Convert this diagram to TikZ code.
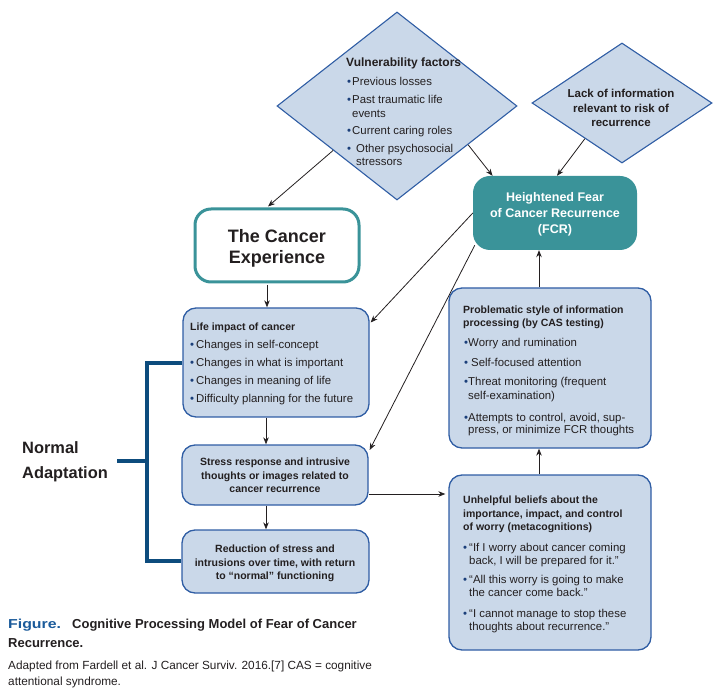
\documentclass[tikz,border=0pt]{standalone}
\usepackage{fontspec}
\setmainfont{Liberation Sans}
\usetikzlibrary{shapes.geometric,arrows.meta,calc}
\definecolor{boxfill}{HTML}{CAD8E9}
\definecolor{boxline}{HTML}{2F5DA4}
\definecolor{tealc}{HTML}{3A9399}
\definecolor{ink}{HTML}{231F20}
\definecolor{bul}{HTML}{1B3F7A}
\definecolor{brack}{HTML}{0D4C7D}
\definecolor{figblue}{HTML}{1A5A9A}
\newcount\tcnt
\newcommand\Tx[4][]{\global\advance\tcnt by 1\relax
  \node[txt,#1] (t\the\tcnt) at (#2,#3) {#4};}
\newcommand\Bul[4][6]{\Tx{#2}{#3}{\textcolor{bul}{\textbullet}}\Tx{#2+#1}{#3}{#4}}
\tikzset{
  txt/.style={anchor=base west,inner sep=0pt,text=ink,font=\fontsize{11.4}{13}\selectfont},
  bt/.style={font=\bfseries\fontsize{10.5}{12}\selectfont},
  ctr/.style={anchor=base},
  bluebox/.style={draw=boxline,fill=boxfill,line width=1.3pt,rounded corners=13pt,inner sep=0pt},
  bluediam/.style={diamond,draw=boxline,fill=boxfill,line width=1.1pt,inner sep=0pt},
  arr/.style={draw=ink,line width=0.8pt,-{Stealth[length=7pt,width=5.5pt]}},
  brk/.style={draw=brack,line width=4pt}
}
\begin{document}
\begin{tikzpicture}[x=1pt,y=-1pt]
\useasboundingbox (0,0) rectangle (723,700);
% shapes
\node[bluediam,minimum width=240pt,minimum height=188pt] (vul) at (397,106) {};
\node[bluediam,minimum width=180pt,minimum height=120pt] (lack) at (622,103) {};
\node[draw=tealc,fill=white,line width=3pt,rounded corners=16pt,minimum width=164pt,minimum height=73pt,inner sep=0pt] (cancer) at (277,245.5) {};
\node[fill=tealc,rounded corners=17pt,minimum width=164pt,minimum height=74pt,inner sep=0pt] (fcr) at (555,213) {};
\node[bluebox,minimum width=186pt,minimum height=109pt] (life) at (276,362.5) {};
\node[bluebox,minimum width=186pt,minimum height=60pt] (stress) at (275,475) {};
\node[bluebox,minimum width=187pt,minimum height=63pt] (red) at (275.5,561.5) {};
\node[bluebox,minimum width=202pt,minimum height=160pt] (prob) at (550,368) {};
\node[bluebox,minimum width=202pt,minimum height=175pt] (unh) at (550,562.5) {};
% connectors
\draw[arr] ($(vul.west)!0.47!(vul.south)$) -- ($(cancer.north)+(-9,-1)$);
\draw[arr] ($(vul.east)!0.41!(vul.south)$) -- ($(fcr.north west)!0.12!(fcr.north east)$);
\draw[arr] ($(lack.west)!0.59!(lack.south)$) -- ($(fcr.north)+(2,0)$);
\draw[arr] ($(cancer.south)+(-10,1.5)$) coordinate (c1) -- (c1 |- life.north);
\draw[arr] ($(life.south)+(-10,0)$) coordinate (c2) -- (c2 |- stress.north);
\draw[arr] ($(stress.south)+(-9,0)$) coordinate (c3) -- (c3 |- red.north);
\draw[arr] (fcr.west) -- ($(life.east)+(1,-40)$);
\draw[arr] ($(fcr.south west)+(2,-5)$) -- ($(stress.east)+(1,-25)$);
\draw[arr] ($(stress.east)+(0,19)$) coordinate (c4) -- ($(c4 -| unh.west)+(-3,0)$);
\draw[arr] ($(unh.north)+(-11,0)$) coordinate (c5) -- (c5 |- prob.south);
\draw[arr] ($(prob.north)+(-11,0)$) coordinate (c6) -- (c6 |- fcr.south);
% bracket
\coordinate (b1) at (147,363);
\coordinate (b2) at (147,561);
\coordinate (b3) at (117,461);
\draw[brk] (life.west |- b1) -- (b1) -- (b2) -- (red.west |- b2);
\draw[brk] (b3) -- (b3 -| b1);
\Tx[font=\bfseries\fontsize{16.4}{18}\selectfont]{22}{453.5}{Normal}
\Tx[font=\bfseries\fontsize{16.4}{18}\selectfont]{22}{478}{Adaptation}
% vulnerability
\Tx[font=\bfseries\fontsize{12}{14}\selectfont]{346}{67}{Vulnerability factors}
\Bul[5]{347}{86}{Previous losses}
\Bul[5]{347}{104}{Past traumatic life}
\Tx{352}{117.5}{events}
\Bul[5]{347}{135}{Current caring roles}
\Bul[9]{347}{153}{Other psychosocial}
\Tx{356}{166}{stressors}
% lack
\Tx[ctr,font=\bfseries\fontsize{11.5}{13}\selectfont]{621}{97.5}{Lack of information}
\Tx[ctr,font=\bfseries\fontsize{11.5}{13}\selectfont]{621}{112.5}{relevant to risk of}
\Tx[ctr,font=\bfseries\fontsize{11.5}{13}\selectfont]{621}{127}{recurrence}
% fcr
\Tx[ctr,text=white,font=\bfseries\fontsize{12.5}{14}\selectfont]{555}{201.5}{Heightened Fear}
\Tx[ctr,text=white,font=\bfseries\fontsize{12.5}{14}\selectfont]{555}{217.5}{of Cancer Recurrence}
\Tx[ctr,text=white,font=\bfseries\fontsize{12.5}{14}\selectfont]{555}{234}{(FCR)}
% cancer
\Tx[ctr,font=\bfseries\fontsize{18}{20}\selectfont]{277}{243}{The Cancer}
\Tx[ctr,font=\bfseries\fontsize{18}{20}\selectfont]{277}{264}{Experience}
% life impact
\Tx[bt]{190}{331}{Life impact of cancer}
\Bul{190}{349}{Changes in self-concept}
\Bul{190}{367}{Changes in what is important}
\Bul{190}{385}{Changes in meaning of life}
\Bul{190}{403}{Difficulty planning for the future}
% stress
\Tx[bt,ctr]{275}{465}{Stress response and intrusive}
\Tx[bt,ctr]{275}{479}{thoughts or images related to}
\Tx[bt,ctr]{275}{492}{cancer recurrence}
% reduction
\Tx[bt,ctr]{275}{552}{Reduction of stress and}
\Tx[bt,ctr]{275}{566}{intrusions over time, with return}
\Tx[bt,ctr]{275}{579}{to “normal” functioning}
% problematic
\Tx[bt]{463}{314}{Problematic style of information}
\Tx[bt]{463}{327}{processing (by CAS testing)}
\Bul[4]{464}{347}{Worry and rumination}
\Bul[7]{464}{367}{Self-focused attention}
\Bul[4]{464}{386}{Threat monitoring (frequent}
\Tx{468}{400}{self-examination)}
\Bul[4]{464}{421}{Attempts to control, avoid, sup-}
\Tx{468}{433}{press, or minimize FCR thoughts}
% unhelpful
\Tx[bt]{463}{503}{Unhelpful beliefs about the}
\Tx[bt]{463}{517}{importance, impact, and control}
\Tx[bt]{463}{530}{of worry (metacognitions)}
\Bul{463}{551}{“If I worry about cancer coming}
\Tx{469}{564}{back, I will be prepared for it.”}
\Bul{463}{583}{“All this worry is going to make}
\Tx{469}{596}{the cancer come back.”}
\Bul{463}{617}{“I cannot manage to stop these}
\Tx{469}{630}{thoughts about recurrence.”}
% caption
\Tx[text=figblue,font=\bfseries\fontsize{13}{15}\selectfont]{8}{628}{\scalebox{1.22}[1]{Figure.}}
\Tx[font=\bfseries\fontsize{13}{15}\selectfont]{72}{628}{Cognitive Processing Model of Fear of Cancer}
\Tx[font=\bfseries\fontsize{13}{15}\selectfont]{8}{647}{Recurrence.}
\Tx[font=\fontsize{11.8}{13}\selectfont]{8}{669}{Adapted from Fardell et al. J Cancer Surviv. 2016.[7] CAS = cognitive}
\Tx[font=\fontsize{11.8}{13}\selectfont]{8}{685}{attentional syndrome.}
\end{tikzpicture}
\end{document}
